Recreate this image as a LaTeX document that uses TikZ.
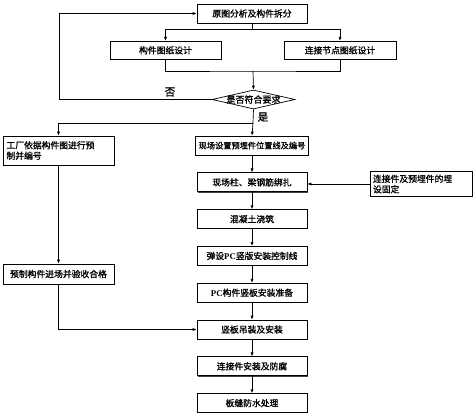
\documentclass[tikz,border=0pt]{standalone}
\usepackage{fontspec}
\newfontfamily\cjk{Noto Sans CJK SC}[FakeBold=1.2]
\newfontfamily\pcfont{Liberation Serif}
\usetikzlibrary{shapes.geometric,arrows.meta,shadows}
\begin{document}
\begin{tikzpicture}[x=1pt,y=1pt,node distance=36.8pt]
\tikzstyle{arrow} = [line width=0.7pt, -{Latex[length=4pt,width=3.2pt]}]
\tikzstyle{line} = [line width=0.7pt]
\tikzstyle{node} = [rectangle, minimum width=110pt, minimum height=19pt, text centered, draw=black, line width=0.7pt, fill=white, font=\cjk\fontsize{8.8pt}{10.5pt}\selectfont, drop shadow={shadow xshift=0.8pt, shadow yshift=-0.8pt, opacity=1, fill=black!75}]
\tikzstyle{note} = [node, text width=104pt, align=left, inner sep=3pt]
\tikzstyle{decision} = [diamond, draw=black, line width=0.7pt, minimum width=83pt, minimum height=19pt, inner sep=0pt, aspect=4.4]
\useasboundingbox (0,0) rectangle (474,-415);
\node[node](analysis) at (252,-13.5){原图分析及构件拆分};
\node[node, below of = analysis, xshift = -86.5pt, minimum width = 111pt, minimum height = 18pt](design1){构件图纸设计};
\node[node, below of = analysis, xshift = 88pt, minimum width = 112pt, minimum height = 18pt](design2){连接节点图纸设计};
\node[decision](check) at (253.5,-99.5){};
\node[font=\cjk\fontsize{9pt}{10pt}\selectfont] at (check) {是否符合要求};
\node[font=\cjk\fontsize{10.5pt}{12pt}\selectfont](no) at (170,-92){否};
\node[font=\cjk\fontsize{10.5pt}{12pt}\selectfont](yes) at (263,-117){是};
\node[node](site1) at (252,-145.5){\fontsize{8.2pt}{10pt}\selectfont 现场设置预埋件位置线及编号};
\node[node, below of = site1](site2){现场柱、梁钢筋绑扎};
\node[node, below of = site2](site3){混凝土浇筑};
\node[node, below of = site3](site4){弹设{\pcfont\bfseries PC}竖版安装控制线};
\node[node, below of = site4](site5){{\pcfont\bfseries PC}构件竖板安装准备};
\node[node, below of = site5](site6){竖板吊装及安装};
\node[node, below of = site6](site7){连接件安装及防腐};
\node[node, below of = site7](site8){板缝防水处理};
\node[note, minimum width = 111pt, minimum height = 29pt](factory1) at (58.5,-150.5){工厂依据构件图进行预\\制并编号};
\node[node, minimum width = 111pt, minimum height = 20pt](factory2) at (58.5,-274){预制构件进场并验收合格};
\node[note, minimum width = 102pt, text width = 96pt, minimum height = 22pt](fix) at (421,-184){连接件及预埋件的埋\\设固定};
\coordinate (split1) at (252,-29);
\coordinate (merge) at (253,-71);
\coordinate (split2) at (253,-123);
\coordinate (back) at (59,-99.5);
\draw[line] (analysis)--(split1);
\draw[arrow] (split1)-|(design1.north);
\draw[arrow] (split1)-|(design2.north);
\draw[line] (design1.south)|-(merge)-|(design2.south);
\draw[arrow] (merge)--(check.north);
\draw[arrow] (check.west)--(back)|-(analysis.west);
\draw[line] (check.south)--(split2);
\draw[arrow] (split2)--(site1.north);
\draw[arrow] (split2)-|(factory1.north);
\draw[arrow] (site1)--(site2);
\draw[arrow] (fix.west)--(fix.west -| site2.east);
\draw[arrow] (site2)--(site3);
\draw[arrow] (site3)--(site4);
\draw[arrow] (site4)--(site5);
\draw[arrow] (site5)--(site6);
\draw[arrow] (site6)--(site7);
\draw[arrow] (site7)--(site8);
\draw[arrow] (factory1)--(factory2);
\draw[arrow] (factory2.south)|-(site6.west);
\end{tikzpicture}
\end{document}
